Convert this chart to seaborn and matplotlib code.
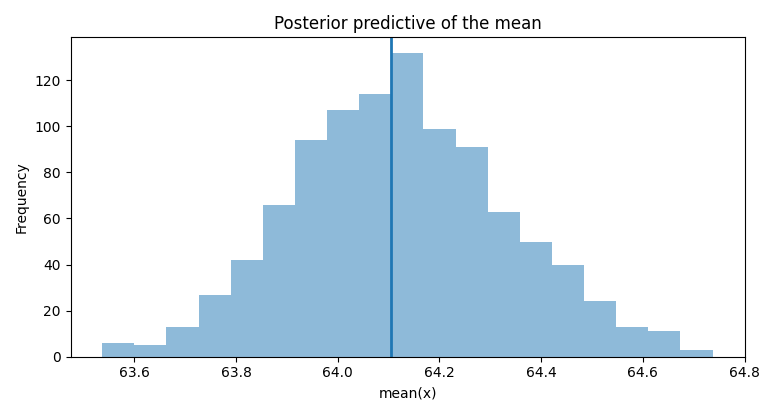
import numpy as np
import pandas as pd
import matplotlib
matplotlib.use("Agg")
import matplotlib.pyplot as plt
import seaborn as sns

# histogram
bin_start = 63.537
bin_end = 64.737
counts = [6, 5, 13, 27, 42, 66, 94, 107, 114, 132, 99, 91, 63, 50, 40, 24, 13, 11, 3]
mean_line = 64.104

edges = np.linspace(bin_start, bin_end, len(counts) + 1)
centers = (edges[:-1] + edges[1:]) / 2
df = pd.DataFrame({"x": centers, "n": counts})

fig, ax = plt.subplots(figsize=(7.75, 4.15), dpi=100)
sns.histplot(data=df, x="x", weights="n", bins=list(edges), color="C0", alpha=0.5,
             edgecolor="none", linewidth=0, ax=ax)
ax.axvline(mean_line, color="C0", linewidth=2)

ax.set_xlim(63.475, 64.8)
ax.set_xticks([63.6, 63.8, 64.0, 64.2, 64.4, 64.6, 64.8])
ax.set_title("Posterior predictive of the mean")
ax.set_xlabel("mean(x)")
ax.set_ylabel("Frequency")
plt.tight_layout()
plt.savefig("out.png")
